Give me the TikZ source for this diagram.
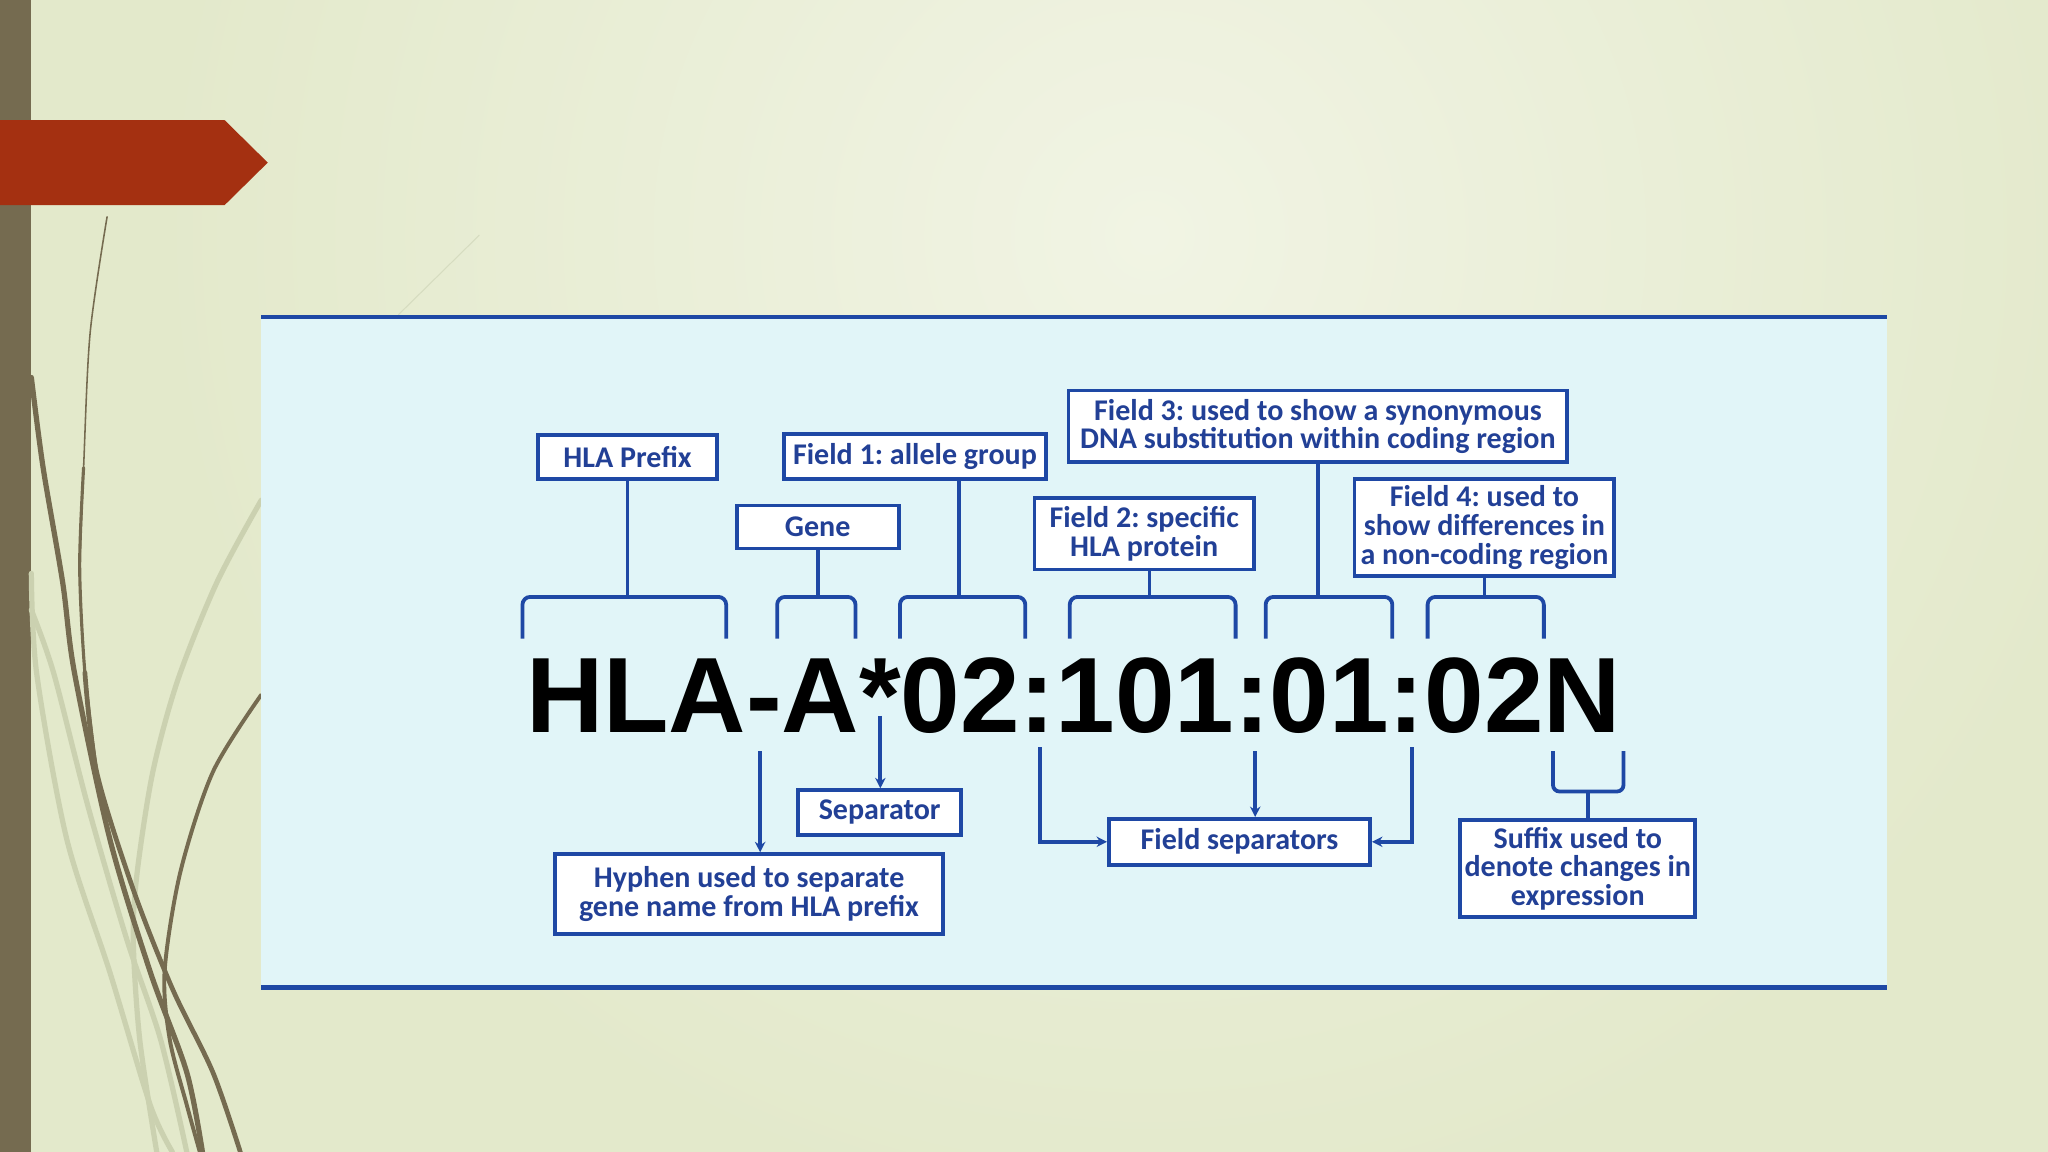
\documentclass[tikz,border=0pt]{standalone}
\usepackage{fontspec}
\setmainfont{Carlito}
\newfontfamily\allelefont{Liberation Sans}
\usetikzlibrary{arrows.meta}
\frenchspacing

\definecolor{slidebg}{RGB}{227,233,203}
\definecolor{slidelight}{RGB}{241,244,228}
\definecolor{barolive}{RGB}{117,107,80}
\definecolor{stemlight}{RGB}{203,209,176}
\definecolor{tabred}{RGB}{164,48,17}
\definecolor{panelfill}{RGB}{225,245,248}
\definecolor{hlaline}{RGB}{30,72,165}
\definecolor{hlatext}{RGB}{34,64,150}

\begin{document}
\begin{tikzpicture}[x=1pt,y=-1pt,align=center,
    labelbox/.style={draw=hlaline,line width=2.9pt,fill=white,text=hlatext,
      font=\bfseries\fontsize{23}{22}\selectfont,inner sep=0pt},
    link/.style={draw=hlaline,line width=2.9pt},
    pointer/.style={link,-{Stealth[length=8pt,width=8pt]}},
    stalk/.style={draw=barolive,line cap=round},
    paleline/.style={draw=stemlight,line width=4pt,line cap=round}]

\useasboundingbox (0,0) rectangle (1568,882);

% slide background
\fill[slidebg] (0,0) rectangle (1568,882);
\shade[inner color=slidelight,outer color=slidebg] (880,180) circle (760);
\fill[barolive] (0,0) rectangle (23.5,882);
\fill[tabred] (0,92) -- (172,92) -- (205,124.5) -- (172,157) -- (0,157) -- cycle;
\draw[stemlight!70!slidelight,line width=0.8pt] (305,241) -- (367,180);

% grass stalks
\draw[paleline] plot[smooth] coordinates {(200,383) (166,446) (136,521) (117,591) (105,668) (102,719) (107,796) (120,882)};
\draw[paleline] plot[smooth] coordinates {(24,439) (28,515) (51,642) (84,744) (115,846) (132,882)};
\draw[paleline] plot[smooth] coordinates {(24,467) (41,515) (67,616) (97,719) (123,796) (143,882)};
\draw[stalk,line width=1.2pt] plot[smooth] coordinates {(82,166) (69,255) (64,358) (61,434)};
\draw[stalk,line width=2.4pt] plot[smooth] coordinates {(64,358) (61,434) (65,515) (74,591)};
\draw[stalk,line width=3.6pt] plot[smooth] coordinates {(65,515) (74,591) (102,681) (132,757) (163,821) (184,882)};
\draw[stalk,line width=4pt] plot[smooth] coordinates {(24,289) (33,358) (48,446) (57,515) (84,642) (115,744) (143,821) (155,882)};
\draw[stalk,line width=3pt] plot[smooth] coordinates {(200,532) (163,591) (138,668) (126,744) (130,796) (143,846) (153,882)};

% panel
\fill[panelfill] (200,243) rectangle (1445,756);
\draw[hlaline,line width=3.2pt] (200,243) -- (1445,243);
\draw[hlaline,line width=3.2pt] (200,756) -- (1445,756);

% the allele name
\node[font=\allelefont\bfseries\fontsize{82}{82}\selectfont,inner sep=0pt,anchor=base] (allele) at (822,561) {HLA-A*02:101:01:02N};

% labels above
\node[labelbox,minimum width=137,minimum height=34] (pre) at (480.5,350) {HLA Prefix};
\node[labelbox,minimum width=124,minimum height=33] (gene) at (626,403.5) {Gene};
\node[labelbox,minimum width=201,minimum height=35] (fone) at (700.5,349.5) {Field 1: allele group};
\node[labelbox,minimum width=382,minimum height=55] (fthree) at (1009,326.5) {Field 3: used to show a synonymous\\DNA substitution within coding region};
\node[labelbox,minimum width=168,minimum height=55] (ftwo) at (876,408.5) {Field 2: specific\\HLA protein};
\node[labelbox,minimum width=199,minimum height=74] (ffour) at (1136.5,404) {Field 4: used to\\show differences in\\a non-coding region};

% labels below
\node[labelbox,minimum width=125,minimum height=34] (sep) at (673.5,622) {Separator};
\node[labelbox,minimum width=297,minimum height=61] (hyph) at (573.5,684.5) {Hyphen used to separate\\gene name from HLA prefix};
\node[labelbox,minimum width=200,minimum height=35] (fsep) at (949,644.5) {Field separators};
\node[labelbox,minimum width=180,minimum height=74] (suf) at (1208,665) {Suffix used to\\denote changes in\\expression};

% brackets over the name
\draw[link,rounded corners=6pt] (400,489) -- (400,457) -- (556,457) -- (556,489);
\draw[link,rounded corners=6pt] (595,489) -- (595,457) -- (655,457) -- (655,489);
\draw[link,rounded corners=6pt] (689,489) -- (689,457) -- (785,457) -- (785,489);
\draw[link,rounded corners=6pt] (819,489) -- (819,457) -- (946,457) -- (946,489);
\draw[link,rounded corners=6pt] (969,489) -- (969,457) -- (1066,457) -- (1066,489);
\draw[link,rounded corners=6pt] (1093,489) -- (1093,457) -- (1182,457) -- (1182,489);
\draw[link] (pre.south) -- (pre.south |- 0,457);
\draw[link] (gene.south) -- (gene.south |- 0,457);
\draw[link] (fone.south -| 734,0) -- (734,457);
\draw[link] (ftwo.south -| 880,0) -- (880,457);
\draw[link] (fthree.south) -- (fthree.south |- 0,457);
\draw[link] (ffour.south) -- (ffour.south |- 0,457);

% pointers under the name
\coordinate (hyphtip) at (582,575);
\coordinate (startip) at (674,548);
\coordinate (colone) at (796,572);
\coordinate (coltwo) at (961,575);
\coordinate (colthree) at (1081,572);
\coordinate (sufknot) at (1216,606);
\draw[pointer] (hyphtip) -- (hyphtip |- hyph.north);
\draw[pointer] (startip) -- (startip |- sep.north);
\draw[pointer] (colone) |- (fsep.west);
\draw[pointer] (coltwo) -- (coltwo |- fsep.north);
\draw[pointer] (colthree) |- (fsep.east);
\draw[link,rounded corners=5pt] (1189,575) -- (1189,606) -- (1243,606) -- (1243,575);
\draw[link] (sufknot) -- (sufknot |- suf.north);

\end{tikzpicture}
\end{document}
